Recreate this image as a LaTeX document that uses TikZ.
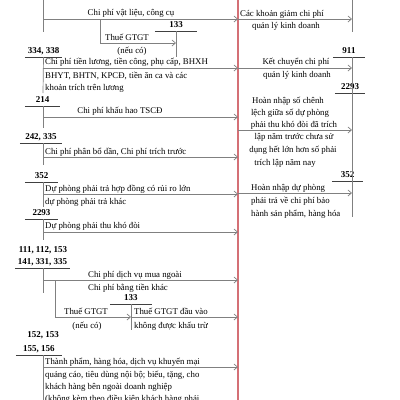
\documentclass[tikz,border=0pt]{standalone}
\usepackage{fontspec}
\setmainfont{Liberation Serif}
\usetikzlibrary{arrows.meta}
\definecolor{linegray}{RGB}{128,128,128}
\definecolor{redline}{RGB}{212,112,118}
\begin{document}
\begin{tikzpicture}[x=1pt,y=-1pt,
  tl/.style={draw=linegray, line width=0.7pt},
  arr/.style={tl, -{Straight Barb[length=3.5pt,width=6pt]}},
  accbase/.style={font=\fontsize{9}{11}\selectfont\bfseries, inner xsep=0pt, inner ysep=1.5pt, text height=1.6ex, text depth=0.3ex},
  acc/.style={accbase, minimum width=#1,
    append after command={(\tikzlastnode.south west) edge[draw=black!75, line width=0.6pt] (\tikzlastnode.south east)}},
  txt/.style={font=\fontsize{8.8}{11}\selectfont, inner sep=0pt, text height=1.6ex, text depth=0.3ex},
  txtw/.style={txt, anchor=west}]
\useasboundingbox (0,0) rectangle (400,400);

% red axis
\coordinate (Rt) at (238,0);
\coordinate (Rb) at (238,400);
\draw[draw=redline, line width=1.1pt] (Rt) -- (Rb);

% ---------- left side ----------
% top account
\coordinate (A0t) at (43,0);
\coordinate (A0b) at (43,32);
\draw[tl] (A0t) -- (A0b);
\coordinate (A0a) at (43,19);
\draw[arr] (A0a) -- (A0a -| Rt);
\node[txt] (t1) at (131,13) {Chi phí vật liệu, công cụ};
\coordinate (B1) at (100,19);
\coordinate (B1d) at (100,43);
\node[acc=42pt] (n133a) at (176,25) {133};
\coordinate (n133ab) at (176,57);
\draw[tl] (n133a.south) -- (n133ab);
\draw[tl] (B1) -- (B1d);
\draw[arr] (B1d) -- (B1d -| n133a.south);
\node[txt] (t2) at (127,38) {Thuế GTGT};
\node[txt] (t3) at (132,51) {(nếu có)};

% 334, 338
\node[acc=37pt] (n334) at (43.5,51) {334, 338};
\coordinate (n334b) at (43,93);
\draw[tl] (n334.south) -- (n334b);
\coordinate (a334) at (43,68);
\draw[arr] (a334) -- (a334 -| Rt);
\node[txtw] (t4) at (45,62) {Chi phí tiền lương, tiền công, phụ cấp, BHXH};
\node[txtw] (t5) at (45,76) {BHYT, BHTN, KPCĐ, tiền ăn ca và các};
\node[txtw] (t6) at (45,88) {khoản trích trên lương};

% 214
\node[acc=35pt] (n214) at (42.5,100) {214};
\coordinate (n214b) at (43,128);
\draw[tl] (n214.south -| n214b) -- (n214b);
\coordinate (a214) at (43,117);
\draw[arr] (a214) -- (a214 -| Rt);
\node[txt] (t7) at (120,111) {Chi phí khấu hao TSCĐ};

% 242, 335
\node[acc=42pt] (n242) at (41,137) {242, 335};
\coordinate (n242b) at (43,165);
\draw[tl] (n242.south -| n242b) -- (n242b);
\coordinate (a242) at (43,157);
\draw[arr] (a242) -- (a242 -| Rt);
\node[txtw] (t8) at (45,152) {Chi phí phân bổ dần, Chi phí trích trước};

% 352 (left)
\node[acc=33pt] (n352a) at (41.5,176) {352};
\coordinate (n352ab) at (43,207);
\draw[tl] (n352a.south -| n352ab) -- (n352ab);
\coordinate (a352) at (43,194);
\draw[arr] (a352) -- (a352 -| Rt);
\node[txtw] (t9) at (45,189) {Dự phòng phải trả hợp đồng có rủi ro lớn};
\node[txtw] (t10) at (45,202) {dự phòng phải trả khác};

% 2293 (left)
\node[acc=33pt] (n2293a) at (41.5,213) {2293};
\coordinate (n2293ab) at (43,240);
\draw[tl] (n2293a.south -| n2293ab) -- (n2293ab);
\coordinate (a2293) at (43,232);
\draw[arr] (a2293) -- (a2293 -| Rt);
\node[txtw] (t11) at (45,226) {Dự phòng phải thu khó đòi};

% 111, 112, 153 / 141, 331, 335
\node[accbase] (n111) at (43,250) {111, 112, 153};
\node[acc=55pt] (n141) at (42.5,262) {141, 331, 335};
\coordinate (n141b) at (43,293);
\draw[tl] (n141.south -| n141b) -- (n141b);
\coordinate (a141) at (43,280);
\draw[arr] (a141) -- (a141 -| Rt);
\node[txtw] (t12) at (88,275) {Chi phí dịch vụ mua ngoài};
\node[txtw] (t13) at (88,288) {Chi phí bằng tiền khác};
\coordinate (B2) at (55,280);
\coordinate (B2d) at (55,317);
\draw[tl] (B2) -- (B2d);
\node[acc=42pt] (n133b) at (131,298) {133};
\coordinate (n133bb) at (131,330);
\draw[tl] (n133b.south) -- (n133bb);
\draw[arr] (B2d) -- (B2d -| n133b.south);
\coordinate (a133b) at (131,317);
\draw[arr] (a133b) -- (a133b -| Rt);
\node[txt] (t14) at (86,312) {Thuế GTGT};
\node[txt] (t15) at (87,326) {(nếu có)};
\node[txtw] (t16) at (134,312) {Thuế GTGT đầu vào};
\node[txtw] (t17) at (134,326) {không được khấu trừ};

% 152, 153 / 155, 156
\node[accbase] (n152) at (43,335) {152, 153};
\node[acc=46pt] (n155) at (39,349) {155, 156};
\coordinate (n155b) at (43,400);
\draw[tl] (n155.south -| n155b) -- (n155b);
\coordinate (a155) at (43,367);
\draw[arr] (a155) -- (a155 -| Rt);
\node[txtw] (t18) at (45,362) {Thành phẩm, hàng hóa, dịch vụ khuyến mại};
\node[txtw] (t19) at (45,375) {quảng cáo, tiêu dùng nội bộ; biếu, tặng, cho};
\node[txtw] (t20) at (45,387) {khách hàng bên ngoài doanh nghiệp};
\node[txtw] (t21) at (45,399) {(không kèm theo điều kiện khách hàng phải};

% ---------- right side ----------
\coordinate (K0t) at (352,0);
\coordinate (K0b) at (352,32);
\draw[tl] (K0t) -- (K0b);
\coordinate (r1) at (238,19);
\draw[arr] (r1) -- (r1 -| K0t);
\node[txt] (t22) at (282,14) {Các khoản giảm chi phí};
\node[txt] (t23) at (286,26) {quản lý kinh doanh};

\node[acc=32pt] (n911) at (349,51) {911};
\node[acc=30pt] (n2293b) at (350,87) {2293};
\node[acc=31pt] (n352b) at (347.5,175) {352};
\coordinate (K1b) at (352,217);
\draw[tl] (n911.south -| K1b) -- (K1b);

\coordinate (r2) at (238,68);
\draw[arr] (r2) -- (r2 -| K1b);
\node[txt] (t24) at (296,62) {Kết chuyển chi phí};
\node[txt] (t25) at (297,75) {quản lý kinh doanh};

\coordinate (r3) at (238,130);
\draw[arr] (r3) -- (r3 -| K1b);
\node[txt] (t26) at (288,101) {Hoàn nhập số chênh};
\node[txt] (t27) at (290,113) {lệch giữa số dự phòng};
\node[txt] (t28) at (294,125) {phải thu khó đòi đã trích};
\node[txt] (t29) at (294,137) {lập năm trước chưa sử};
\node[txt] (t30) at (293,150) {dụng hết lớn hơn số phải};
\node[txt] (t31) at (285,163) {trích lập năm nay};

\coordinate (r4) at (238,193);
\draw[arr] (r4) -- (r4 -| K1b);
\node[txtw] (t32) at (251,188) {Hoàn nhập dự phòng};
\node[txtw] (t33) at (251,201) {phải trả về chi phí bảo};
\node[txtw] (t34) at (251,214) {hành sản phẩm, hàng hóa};
\end{tikzpicture}
\end{document}
